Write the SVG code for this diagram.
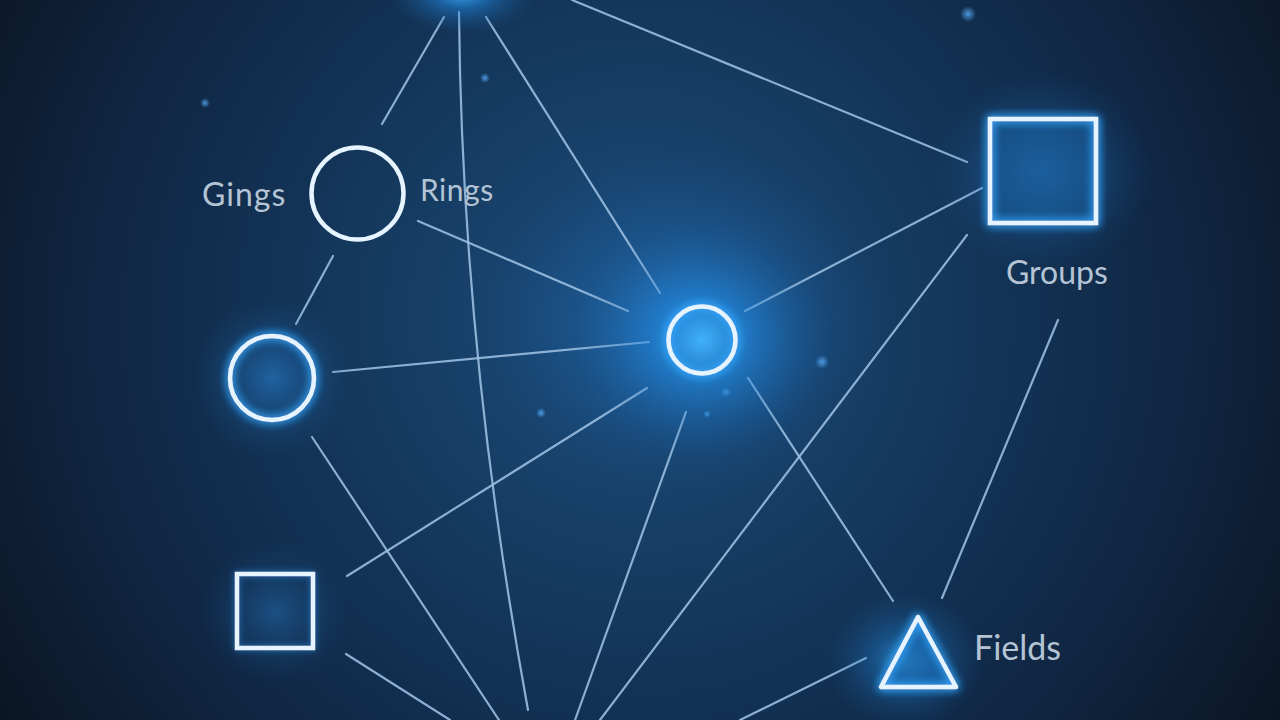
<svg xmlns="http://www.w3.org/2000/svg" width="1280" height="720" viewBox="0 0 1280 720">
<defs>
<radialGradient id="bg" cx="640" cy="320" r="760" gradientUnits="userSpaceOnUse">
<stop offset="0" stop-color="#1b4f80"/>
<stop offset="0.35" stop-color="#153a60"/>
<stop offset="0.7" stop-color="#102744"/>
<stop offset="1" stop-color="#0b1523"/>
</radialGradient>
<radialGradient id="glow" cx="0.5" cy="0.5" r="0.5">
<stop offset="0" stop-color="#42b4ff" stop-opacity="0.95"/>
<stop offset="0.4" stop-color="#2088e0" stop-opacity="0.5"/>
<stop offset="1" stop-color="#1a5a9a" stop-opacity="0"/>
</radialGradient>
<radialGradient id="softglow" cx="0.5" cy="0.5" r="0.5">
<stop offset="0" stop-color="#2a8ae0" stop-opacity="0.55"/>
<stop offset="1" stop-color="#1a5a9a" stop-opacity="0"/>
</radialGradient>
<radialGradient id="dot" cx="0.5" cy="0.5" r="0.5">
<stop offset="0" stop-color="#5ab0ff" stop-opacity="0.8"/>
<stop offset="1" stop-color="#5ab0ff" stop-opacity="0"/>
</radialGradient>
<filter id="neon" x="-50%" y="-50%" width="200%" height="200%">
<feGaussianBlur in="SourceAlpha" stdDeviation="5" result="b"/>
<feFlood flood-color="#36a8ff" flood-opacity="1"/>
<feComposite in2="b" operator="in" result="g"/>
<feMerge><feMergeNode in="g"/><feMergeNode in="g"/><feMergeNode in="SourceGraphic"/></feMerge>
</filter>
<filter id="neonsoft" x="-50%" y="-50%" width="200%" height="200%">
<feGaussianBlur in="SourceAlpha" stdDeviation="3" result="b"/>
<feFlood flood-color="#2f9bff" flood-opacity="0.6"/>
<feComposite in2="b" operator="in" result="g"/>
<feMerge><feMergeNode in="g"/><feMergeNode in="SourceGraphic"/></feMerge>
</filter>
</defs>
<style>
.edge{stroke:#9dc0e2;stroke-width:2.2;fill:none;stroke-linecap:round;opacity:0.88}
.shape{stroke:#e6f4ff;stroke-width:4.5;fill:none}
.lbl{font-family:Lato,"Open Sans","Liberation Sans",sans-serif;font-weight:400;fill:#b4c4d4}
</style>
<rect width="1280" height="720" fill="url(#bg)"/>
<ellipse cx="690" cy="320" rx="200" ry="170" fill="url(#softglow)"/>
<g id="particles">
<circle cx="205" cy="103" r="5" fill="url(#dot)"/>
<circle cx="968" cy="14" r="8" fill="url(#dot)"/>
<circle cx="485" cy="78" r="5" fill="url(#dot)"/>
<circle cx="822" cy="362" r="7" fill="url(#dot)"/>
<circle cx="541" cy="413" r="5" fill="url(#dot)"/>
<circle cx="707" cy="414" r="4" fill="url(#dot)"/>
<circle cx="726" cy="392" r="5" fill="url(#dot)"/>
</g>
<g id="connectors">
<line class="edge" x1="444" y1="17" x2="382" y2="124"/>
<path class="edge" d="M459,12 Q462,350 528,710"/>
<line class="edge" x1="486" y1="17" x2="660" y2="293"/>
<line class="edge" x1="572" y1="0" x2="967" y2="162"/>
<line class="edge" x1="418" y1="221" x2="628" y2="311"/>
<line class="edge" x1="333" y1="256" x2="296" y2="324"/>
<line class="edge" x1="333" y1="372" x2="649" y2="342"/>
<line class="edge" x1="745" y1="311" x2="982" y2="188"/>
<line class="edge" x1="647" y1="388" x2="347" y2="576"/>
<line class="edge" x1="686" y1="412" x2="575" y2="720"/>
<line class="edge" x1="967" y1="235" x2="600" y2="720"/>
<line class="edge" x1="312" y1="437" x2="499" y2="720"/>
<line class="edge" x1="346" y1="654" x2="450" y2="720"/>
<line class="edge" x1="748" y1="378" x2="893" y2="601"/>
<line class="edge" x1="1058" y1="320" x2="942" y2="598"/>
<line class="edge" x1="866" y1="658" x2="740" y2="720"/>
</g>
<g id="node-top">
<ellipse cx="462" cy="-8" rx="75" ry="42" fill="url(#glow)"/>
</g>
<g id="node-rings">
<circle cx="357.5" cy="193.5" r="46" class="shape" stroke="#e8f2fa"/>
<text class="lbl" x="202" y="206" font-size="32" letter-spacing="1">Gings</text>
<text class="lbl" x="420" y="201" font-size="30" letter-spacing="0.5">Rings</text>
</g>
<g id="node-left-circle">
<ellipse cx="272" cy="378" rx="80" ry="80" fill="url(#softglow)"/>
<circle cx="272" cy="378" r="42" class="shape" filter="url(#neon)"/>
</g>
<g id="node-center">
<ellipse cx="702" cy="340" rx="130" ry="120" fill="url(#glow)"/>
<circle cx="702" cy="340" r="33.5" class="shape" filter="url(#neon)"/>
</g>
<g id="node-left-square">
<rect x="200" y="540" width="150" height="145" fill="url(#softglow)" opacity="0.7"/>
<rect x="237" y="574" width="76" height="74" class="shape" filter="url(#neonsoft)"/>
</g>
<g id="node-groups">
<ellipse cx="1043" cy="171" rx="110" ry="100" fill="url(#softglow)"/>
<rect x="990" y="119" width="106" height="104" fill="#1a5e9e" opacity="0.55"/>
<rect x="990" y="119" width="106" height="104" class="shape" stroke-width="5" filter="url(#neon)"/>
<text class="lbl" x="1006" y="284" font-size="32">Groups</text>
</g>
<g id="node-fields">
<ellipse cx="905" cy="660" rx="80" ry="70" fill="url(#glow)" opacity="0.7"/>
<polygon points="918,617 881,687 956,687" fill="#1a6cb8" opacity="0.6"/>
<polygon points="918,617 881,687 956,687" class="shape" stroke-linejoin="round" filter="url(#neon)"/>
<text class="lbl" x="974" y="660" font-size="34">Fields</text>
</g>
</svg>
